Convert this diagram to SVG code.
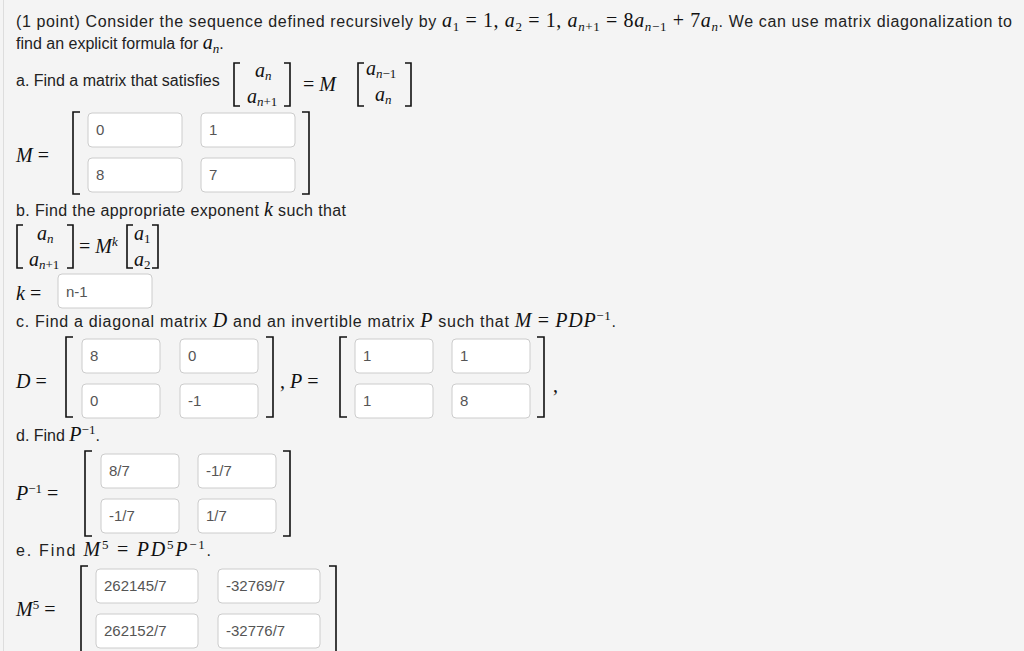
<svg xmlns="http://www.w3.org/2000/svg" width="1024" height="651" viewBox="0 0 1024 651">
<style>
.t{font-family:"Liberation Sans",Arial,sans-serif;font-size:16px;fill:#222}
.m{font-family:"Liberation Serif","Times New Roman",serif;font-style:italic;font-size:20px;fill:#111}
.r{font-family:"Liberation Serif","Times New Roman",serif;font-style:normal;font-size:20px;fill:#111}
.s{font-size:13px}
.b{fill:#fff;stroke:#ccc;stroke-width:1}
.v{font-family:"Liberation Sans",Arial,sans-serif;font-size:15px;fill:#555}
.br{fill:none;stroke:#111;stroke-width:1.6}
</style>
<rect width="1024" height="651" fill="#f4f4f4"/>
<line x1="3.5" y1="0" x2="3.5" y2="651" stroke="#ddd"/>
<text class="t" x="16" y="27" textLength="996" lengthAdjust="spacing">(1 point) Consider the sequence defined recursively by <tspan class="m">a</tspan><tspan class="r s" dy="4">1</tspan><tspan class="r" dy="-4"> = 1, </tspan><tspan class="m">a</tspan><tspan class="r s" dy="4">2</tspan><tspan class="r" dy="-4"> = 1, </tspan><tspan class="m">a</tspan><tspan class="m s" dy="4">n</tspan><tspan class="r s">+1</tspan><tspan class="r" dy="-4"> = 8</tspan><tspan class="m">a</tspan><tspan class="m s" dy="4">n</tspan><tspan class="r s">−1</tspan><tspan class="r" dy="-4"> + 7</tspan><tspan class="m">a</tspan><tspan class="m s" dy="4">n</tspan><tspan dy="-4">. We can use matrix diagonalization to</tspan></text>
<text class="t" x="16" y="49">find an explicit formula for <tspan class="m">a</tspan><tspan class="m s" dy="4">n</tspan><tspan dy="-4">.</tspan></text>
<text class="t" x="16" y="86">a. Find a matrix that satisfies</text>
<path class="br" d="M240 63h-6v43h6M284 63h6v43h-6M364 63h-6v43h6M405 63h6v43h-6"/>
<text class="m" x="255" y="77">a<tspan class="s" dy="3">n</tspan></text>
<text class="m" x="247" y="103">a<tspan class="s" dy="3">n</tspan><tspan class="r s">+1</tspan></text>
<text class="r" x="303" y="91">= <tspan class="m">M</tspan></text>
<text class="m" x="366" y="75">a<tspan class="s" dy="3">n</tspan><tspan class="r s">−1</tspan></text>
<text class="m" x="375" y="101">a<tspan class="s" dy="3">n</tspan></text>
<text class="m" x="16" y="162">M <tspan class="r">=</tspan></text>
<path class="br" d="M80 112h-7v82h7M302 112h7v82h-7"/>
<rect class="b" x="88" y="113" width="94" height="34" rx="4"/><text class="v" x="96" y="135">0</text>
<rect class="b" x="201" y="113" width="94" height="34" rx="4"/><text class="v" x="209" y="135">1</text>
<rect class="b" x="88" y="158" width="94" height="34" rx="4"/><text class="v" x="96" y="180">8</text>
<rect class="b" x="201" y="158" width="94" height="34" rx="4"/><text class="v" x="209" y="180">7</text>
<text class="t" x="16" y="216" textLength="330" lengthAdjust="spacing">b. Find the appropriate exponent <tspan class="m">k</tspan> such that</text>
<path class="br" d="M23 225h-6v43h6M67 225h6v43h-6M133 225h-6v43h6M152 225h6v43h-6"/>
<text class="m" x="37" y="240">a<tspan class="s" dy="3">n</tspan></text>
<text class="m" x="29" y="266">a<tspan class="s" dy="3">n</tspan><tspan class="r s">+1</tspan></text>
<text class="r" x="79" y="253">= <tspan class="m">M</tspan><tspan class="m s" dy="-7">k</tspan></text>
<text class="m" x="134" y="240">a<tspan class="r s" dy="3">1</tspan></text>
<text class="m" x="134" y="266">a<tspan class="r s" dy="3">2</tspan></text>
<text class="m" x="16" y="300">k <tspan class="r">=</tspan></text>
<rect class="b" x="58" y="274" width="94" height="34" rx="4"/><text class="v" x="66" y="297">n-1</text>
<text class="t" x="16" y="327" textLength="600" lengthAdjust="spacing">c. Find a diagonal matrix <tspan class="m">D</tspan> and an invertible matrix <tspan class="m">P</tspan> such that <tspan class="m">M</tspan><tspan class="r"> = </tspan><tspan class="m">PDP</tspan><tspan class="r s" dy="-7">−1</tspan><tspan dy="7">.</tspan></text>
<text class="m" x="16" y="388">D <tspan class="r">=</tspan></text>
<path class="br" d="M73 337h-7v80h7M266 337h7v80h-7"/>
<rect class="b" x="82" y="339" width="78" height="34" rx="4"/><text class="v" x="90" y="361">8</text>
<rect class="b" x="180" y="339" width="78" height="34" rx="4"/><text class="v" x="188" y="361">0</text>
<rect class="b" x="82" y="384" width="78" height="34" rx="4"/><text class="v" x="90" y="406">0</text>
<rect class="b" x="180" y="384" width="78" height="34" rx="4"/><text class="v" x="188" y="406">-1</text>
<text class="r" x="280" y="388">, <tspan class="m">P</tspan> =</text>
<path class="br" d="M347 337h-7v80h7M537 337h7v80h-7"/>
<rect class="b" x="355" y="339" width="78" height="34" rx="4"/><text class="v" x="363" y="361">1</text>
<rect class="b" x="452" y="339" width="78" height="34" rx="4"/><text class="v" x="460" y="361">1</text>
<rect class="b" x="355" y="384" width="78" height="34" rx="4"/><text class="v" x="363" y="406">1</text>
<rect class="b" x="452" y="384" width="78" height="34" rx="4"/><text class="v" x="460" y="406">8</text>
<text class="r" x="553" y="392">,</text>
<text class="t" x="16" y="441">d. Find <tspan class="m">P</tspan><tspan class="r s" dy="-7">−1</tspan><tspan dy="7">.</tspan></text>
<text class="m" x="16" y="500">P<tspan class="r s" dy="-7">−1</tspan><tspan class="r" dy="7"> =</tspan></text>
<path class="br" d="M92 451h-7v85h7M283 451h7v85h-7"/>
<rect class="b" x="101" y="454" width="78" height="34" rx="4"/><text class="v" x="109" y="476">8/7</text>
<rect class="b" x="198" y="454" width="78" height="34" rx="4"/><text class="v" x="206" y="476">-1/7</text>
<rect class="b" x="101" y="499" width="78" height="34" rx="4"/><text class="v" x="109" y="521">-1/7</text>
<rect class="b" x="198" y="499" width="78" height="34" rx="4"/><text class="v" x="206" y="521">1/7</text>
<text class="t" x="16" y="556" textLength="195" lengthAdjust="spacing">e. Find <tspan class="m">M</tspan><tspan class="r s" dy="-7">5</tspan><tspan class="r" dy="7"> = </tspan><tspan class="m">PD</tspan><tspan class="r s" dy="-7">5</tspan><tspan class="m" dy="7">P</tspan><tspan class="r s" dy="-7">−1</tspan><tspan dy="7">.</tspan></text>
<text class="m" x="16" y="616">M<tspan class="r s" dy="-7">5</tspan><tspan class="r" dy="7"> =</tspan></text>
<path class="br" d="M88 566h-7v90M329 566h7v90"/>
<rect class="b" x="96" y="569" width="102" height="34" rx="4"/><text class="v" x="104" y="591">262145/7</text>
<rect class="b" x="218" y="569" width="102" height="34" rx="4"/><text class="v" x="226" y="591">-32769/7</text>
<rect class="b" x="96" y="614" width="102" height="34" rx="4"/><text class="v" x="104" y="636">262152/7</text>
<rect class="b" x="218" y="614" width="102" height="34" rx="4"/><text class="v" x="226" y="636">-32776/7</text>
</svg>
